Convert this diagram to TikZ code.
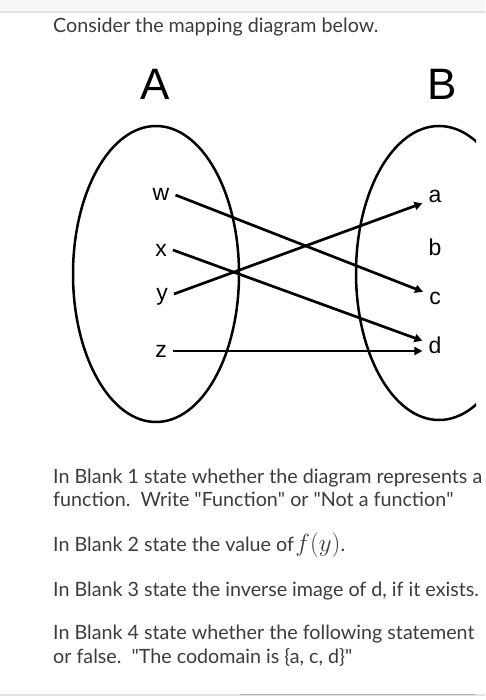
\documentclass[tikz,border=0pt]{standalone}
\usepackage{fontspec}
\setmainfont{Lato}
\newfontfamily\arialfont{Liberation Sans}
\usetikzlibrary{arrows.meta,shapes.geometric}

\definecolor{textgrey}{RGB}{60,60,60}
\definecolor{stripgrey}{RGB}{247,247,247}
\definecolor{rulegrey}{RGB}{226,226,226}

\begin{document}
\begin{tikzpicture}[x=1pt,y=-1pt]
  \tikzset{SetStyle/.style={draw, ellipse, line width=2.5pt, inner sep=0pt}}
  \tikzset{SetName/.style={anchor=base, font=\arialfont\fontsize{44}{44}\selectfont}}
  \tikzset{ElemStyle/.style={inner xsep=6pt, inner ysep=0pt, text height=12pt, text depth=0pt,
      font=\arialfont\fontsize{23}{23}\selectfont}}
  \tikzset{MapStyle/.style={line width=2.7pt, -{Triangle[length=8pt,width=8pt]}}}
  \tikzset{TextLine/.style={anchor=base west, inner sep=0pt, text=textgrey,
      font=\fontsize{19.7}{19.7}\selectfont}}

  \clip (0,0) rectangle (485,700);
  \fill[white] (0,0) rectangle (485,700);
  \fill[stripgrey] (0,0) rectangle (485,12);
  \draw[rulegrey, line width=1.2pt] (0,12) -- (485,12);

  \node[TextLine] (intro) at (53,33) {Consider the mapping diagram below.};

  % the two sets
  \node[SetName] (A) at (155,100) {A};
  \node[SetName] (B) at (442,100) {B};
  \node[SetStyle, minimum width=166, minimum height=296] (setA) at (156,274) {};
  \begin{scope}
    \clip (300,110) rectangle (476,440);
    \node[SetStyle, minimum width=166, minimum height=294] (setB) at (439,273) {};
  \end{scope}

  % elements
  \node[ElemStyle] (w) at (161,195) {w};
  \node[ElemStyle] (x) at (161,250) {x};
  \node[ElemStyle] (y) at (162,294) {y};
  \node[ElemStyle] (z) at (161,351) {z};
  \node[ElemStyle] (a) at (435,197) {a};
  \node[ElemStyle] (b) at (435,249) {b};
  \node[ElemStyle] (c) at (435,298) {c};
  \node[ElemStyle] (d) at (435,347) {d};

  \draw[MapStyle] (w.east) -- (c.north west);
  \draw[MapStyle] (x.east) -- (d.north west);
  \draw[MapStyle] (y.east) -- (a.south west);
  \draw[MapStyle] (z.east) -- (z.east -| d.west);

  % questions
  \node[TextLine] (q1a) at (53,483) {In Blank 1 state whether the diagram represents a};
  \node[TextLine] (q1b) at (53,506) {function.\ \ Write \textquotedbl Function\textquotedbl\ or \textquotedbl Not a function\textquotedbl};
  \node[TextLine] (q2) at (53,551) {In Blank 2 state the value of\hspace{1.5pt}{\fontsize{24}{24}\selectfont$f(y)$}.};
  \node[TextLine] (q3) at (53,596) {In Blank 3 state the inverse image of d, if it exists.};
  \node[TextLine] (q4a) at (53,639) {In Blank 4 state whether the following statement};
  \node[TextLine] (q4b) at (53,663) {or false.\ \ \textquotedbl The codomain is \{a, c, d\}\textquotedbl};

  \draw[rulegrey, line width=1.2pt] (0,695) -- (485,695);
  \draw[rulegrey!80!black, line width=0.8pt] (240,694) -- (475,694);
\end{tikzpicture}
\end{document}
